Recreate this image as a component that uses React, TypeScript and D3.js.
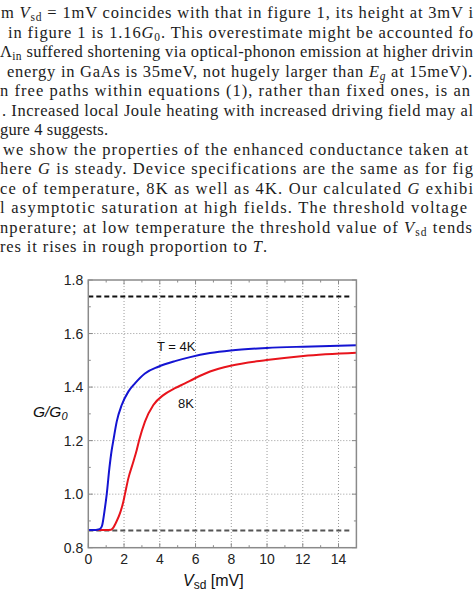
import React from "react";
import * as d3 from "d3";

// ---- paragraph text above the figure (cropped page scan) ----
type Seg = { t: string; it?: boolean; sub?: boolean };
const TEXT_LINES: { x0: number; x1: number; segs: Seg[] }[] = [
  { x0: 1, x1: 473, segs: [{ t: "m " }, { t: "V", it: true }, { t: "sd", sub: true }, { t: " = 1mV coincides with that in figure 1, its height at 3mV i" }] },
  { x0: 8, x1: 473, segs: [{ t: "in figure 1 is 1.16" }, { t: "G", it: true }, { t: "0", sub: true }, { t: ".  This overestimate might be accounted fo" }] },
  { x0: 0, x1: 473, segs: [{ t: "Λ" }, { t: "in", sub: true }, { t: " suffered shortening via optical-phonon emission at higher drivin" }] },
  { x0: 7, x1: 472, segs: [{ t: "energy in GaAs is 35meV, not hugely larger than " }, { t: "E", it: true }, { t: "g", sub: true, it: true }, { t: " at 15meV)." }] },
  { x0: 0, x1: 470, segs: [{ t: "n free paths within equations (1), rather than fixed ones, is an" }] },
  { x0: 2, x1: 473, segs: [{ t: ". Increased local Joule heating with increased driving field may al" }] },
  { x0: 0, x1: 108, segs: [{ t: "gure 4 suggests." }] },
  { x0: 3, x1: 468, segs: [{ t: "we show the properties of the enhanced conductance taken at" }] },
  { x0: 0, x1: 473, segs: [{ t: "here " }, { t: "G", it: true }, { t: " is steady.  Device specifications are the same as for fig" }] },
  { x0: 0, x1: 473, segs: [{ t: "ce of temperature, 8K as well as 4K. Our calculated " }, { t: "G", it: true }, { t: " exhibi" }] },
  { x0: 0, x1: 467, segs: [{ t: "l asymptotic saturation at high fields.  The threshold voltage" }] },
  { x0: 0, x1: 472, segs: [{ t: "nperature; at low temperature the threshold value of " }, { t: "V", it: true }, { t: "sd", sub: true }, { t: " tends" }] },
  { x0: 0, x1: 267, segs: [{ t: "res it rises in rough proportion to " }, { t: "T", it: true }, { t: "." }] },
];

// ---- chart data: G/G0 vs Vsd [mV] ----
const X_TICKS = [0, 2, 4, 6, 8, 10, 12, 14];
const X_MINOR = [1, 3, 5, 7, 9, 11, 13];
const Y_TICKS = [0.8, 1.0, 1.2, 1.4, 1.6, 1.8];
const Y_MINOR = [0.9, 1.1, 1.3, 1.5, 1.7];

const CURVE_4K: [number, number][] = [
  [0, 0.866], [0.3, 0.866], [0.56, 0.868], [0.7, 0.873], [0.78, 0.885], [0.9, 0.934],
  [1.03, 0.999], [1.18, 1.097], [1.31, 1.165], [1.4, 1.2], [1.59, 1.271], [1.87, 1.333],
  [2.24, 1.383], [2.61, 1.414], [3.17, 1.451], [3.92, 1.476], [4.85, 1.497], [5.7, 1.512],
  [6.81, 1.527], [7.97, 1.537], [9.98, 1.546], [12.03, 1.551], [15, 1.556],
];
const CURVE_8K: [number, number][] = [
  [0, 0.866], [0.5, 0.866], [1.0, 0.866], [1.27, 0.867], [1.4, 0.875], [1.53, 0.891],
  [1.77, 0.928], [1.96, 0.972], [2.05, 1.0], [2.24, 1.059], [2.52, 1.121], [2.71, 1.165],
  [2.84, 1.2], [3.17, 1.271], [3.64, 1.333], [4.2, 1.37], [4.85, 1.396], [5.41, 1.414],
  [5.97, 1.433], [6.81, 1.458], [7.97, 1.48], [9.98, 1.501], [12.03, 1.516], [15, 1.528],
];
// dashed limits: value and where the dashes stop
const REF_LINES = [
  { value: 1.738, xEnd: 14.75, color: "#111" },
  { value: 0.864, xEnd: 14.75, color: "#555" },
];

const W = 474;
const H = 613;
const plot = { left: 88.3, right: 356.4, top: 280, bottom: 547.7 };

export default function App() {
  const x = d3.scaleLinear().domain([0, 15]).range([plot.left, plot.right]);
  const y = d3.scaleLinear().domain([0.8, 1.8]).range([plot.bottom, plot.top]);
  const line = d3.line<[number, number]>()
    .x(d => x(d[0]))
    .y(d => y(d[1]))
    .curve(d3.curveMonotoneX);
  const fmt = d3.format(".1f");
  const sans = "'Liberation Sans', Arial, sans-serif";
  const frame = "#8a8a8a";

  return (
    <div style={{ position: "absolute", left: 0, top: 0 }}>
      <svg width={W} height={H} style={{ display: "block", background: "#fff" }}>
        <defs>
          <clipPath id="plotClip">
            <rect x={plot.left} y={plot.top} width={plot.right - plot.left} height={plot.bottom - plot.top} />
          </clipPath>
        </defs>

        {/* page text */}
        <g fontFamily="'Liberation Serif', 'Times New Roman', serif" fontSize={16.5} fill="#1c1c1c">
          {TEXT_LINES.map((ln, i) => (
            <text key={i} x={ln.x0} y={18.3 + i * 19.5} textLength={ln.x1 - ln.x0} lengthAdjust="spacing">
              {ln.segs.map((s, j) => (
                <tspan
                  key={j}
                  fontStyle={s.it ? "italic" : undefined}
                  fontSize={s.sub ? 11.5 : undefined}
                  baselineShift={s.sub ? "-3" : undefined}
                >
                  {s.t}
                </tspan>
              ))}
            </text>
          ))}
        </g>

        {/* grid */}
        <g stroke="#9a9a9a" strokeWidth={1} strokeDasharray="1,2">
          {X_TICKS.filter(t => t > 0).map(t => (
            <line key={"gx" + t} x1={x(t)} x2={x(t)} y1={plot.top} y2={plot.bottom} />
          ))}
          {Y_TICKS.filter(t => t > 0.8 && t < 1.8).map(t => (
            <line key={"gy" + t} x1={plot.left} x2={plot.right} y1={y(t)} y2={y(t)} />
          ))}
        </g>

        {/* ticks, inward */}
        <g stroke={frame} strokeWidth={1}>
          {X_TICKS.map(t => (
            <g key={"tx" + t}>
              <line x1={x(t)} x2={x(t)} y1={plot.bottom} y2={plot.bottom - 4.5} />
              <line x1={x(t)} x2={x(t)} y1={plot.top} y2={plot.top + 4.5} />
            </g>
          ))}
          {X_MINOR.map(t => (
            <g key={"mx" + t}>
              <line x1={x(t)} x2={x(t)} y1={plot.bottom} y2={plot.bottom - 2.5} />
              <line x1={x(t)} x2={x(t)} y1={plot.top} y2={plot.top + 2.5} />
            </g>
          ))}
          {Y_TICKS.map(t => (
            <g key={"ty" + t}>
              <line x1={plot.left} x2={plot.left + 4.5} y1={y(t)} y2={y(t)} />
              <line x1={plot.right} x2={plot.right - 4.5} y1={y(t)} y2={y(t)} />
            </g>
          ))}
          {Y_MINOR.map(t => (
            <g key={"my" + t}>
              <line x1={plot.left} x2={plot.left + 2.5} y1={y(t)} y2={y(t)} />
              <line x1={plot.right} x2={plot.right - 2.5} y1={y(t)} y2={y(t)} />
            </g>
          ))}
        </g>

        {/* dashed limits */}
        {REF_LINES.map((r, i) => (
          <line
            key={"ref" + i}
            x1={x(0)}
            x2={x(r.xEnd)}
            y1={y(r.value)}
            y2={y(r.value)}
            stroke={r.color}
            strokeWidth={2}
            strokeDasharray="5,3"
          />
        ))}

        {/* curves */}
        <g clipPath="url(#plotClip)" fill="none" strokeWidth={2} strokeLinejoin="round">
          <path d={line(CURVE_8K) || ""} stroke="#e8141c" />
          <path d={line(CURVE_4K) || ""} stroke="#1414d2" />
        </g>

        {/* frame */}
        <rect
          x={plot.left}
          y={plot.top}
          width={plot.right - plot.left}
          height={plot.bottom - plot.top}
          fill="none"
          stroke={frame}
          strokeWidth={1.5}
        />

        {/* tick labels */}
        <g fontFamily={sans} fontSize={14} fill="#222">
          {X_TICKS.map(t => (
            <text key={"lx" + t} x={x(t)} y={564} textAnchor="middle">{t}</text>
          ))}
          {Y_TICKS.map(t => (
            <text key={"ly" + t} x={plot.left - 5} y={y(t) + 5} textAnchor="end">{fmt(t)}</text>
          ))}
        </g>

        {/* curve labels */}
        <g fontFamily={sans} fontSize={13} fill="#111">
          <text x={157} y={351}>T = 4K</text>
          <text x={178} y={408}>8K</text>
        </g>

        {/* axis titles */}
        <g fontFamily={sans} fill="#111">
          <text x={33} y={417} fontSize={15.5} fontStyle="italic">
            G/G<tspan fontSize={11} baselineShift="-3">0</tspan>
          </text>
          <text x={183} y={586} fontSize={16}>
            <tspan fontStyle="italic">V</tspan>
            <tspan fontSize={12} baselineShift="-3">sd</tspan>
            <tspan> [mV]</tspan>
          </text>
        </g>
      </svg>
    </div>
  );
}
